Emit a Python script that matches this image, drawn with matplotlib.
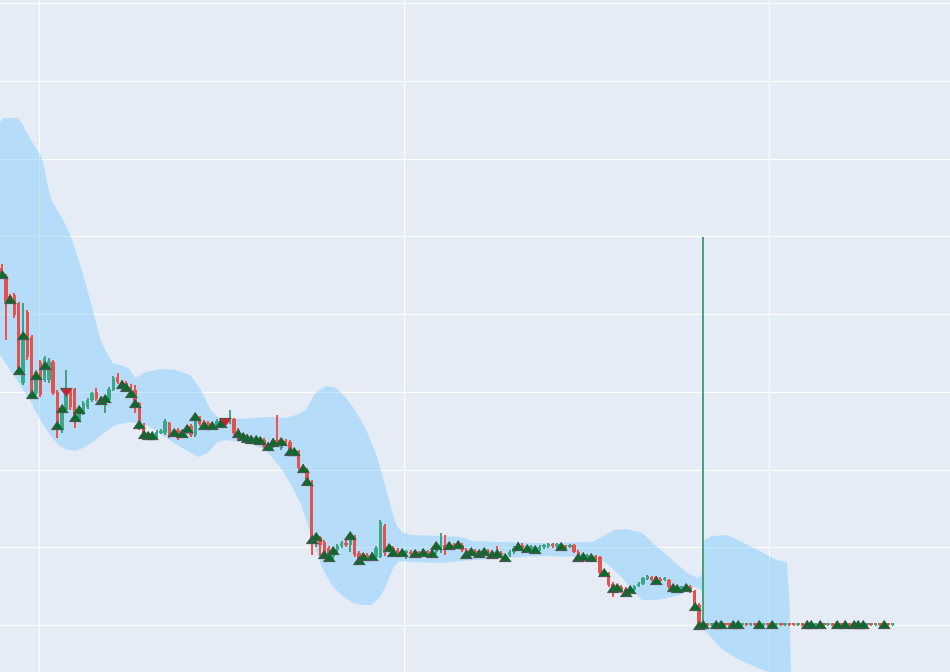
import numpy as np
import matplotlib
matplotlib.use('Agg')
import matplotlib.pyplot as plt

# daily OHLC, price units (grid step 77.75)
open_ = [357, 349, 329, 330, 322, 242, 313, 288, 232, 263,
         245, 245, 263, 233, 195, 215, 235, 236, 205, 212,
         218, 225, 233, 227, 222, 225, 235, 248, 243, 242,
         238, 235, 222, 199, 191, 190, 188, 192, 192, 202,
         192, 195, 190, 193, 199, 190, 207, 203, 202, 198,
         200, 203, 205, 203, 206, 195, 190, 189, 188, 187,
         186, 185, 181, 179, 185, 177, 184, 183, 175, 174,
         159, 155, 143, 85, 88, 83, 77, 68, 75, 79,
         82, 80, 88, 72, 67, 70, 69, 68, 68, 99,
         75, 77, 75, 73, 72, 73, 72, 72, 72, 73,
         72, 73, 77, 80, 78, 80, 78, 80, 75, 72,
         74, 72, 72, 74, 73, 72, 72, 69, 70, 73,
         77, 80, 77, 77, 77, 76, 78, 79, 80, 79,
         80, 79, 78, 80, 73, 69, 68, 69, 68, 68,
         53, 52, 41, 37, 38, 36, 34, 35, 39, 41,
         46, 48, 47, 46, 45, 45, 39, 38, 37, 38,
         38, 34, 20, 0, 1, 0, 1, 0, 1, 1,
         0, 1, 0, 1, 0, 1, 1, 0, 1, 0,
         0, 1, 0, 1, 1, 0, 1, 0, 1, 0,
         1, 1, 0, 1, 0, 1, 0, 1, 1, 0,
         1, 0, 1, 0, 1, 0, 1, 0]
close_ = [349, 323, 325, 310, 253, 290, 268, 230, 253, 230,
          267, 264, 232, 197, 217, 230, 218, 205, 215, 222,
          225, 232, 226, 224, 227, 236, 247, 243, 239, 235,
          231, 221, 198, 190, 189, 188, 193, 194, 204, 189,
          193, 188, 192, 197, 190, 209, 201, 199, 197, 201,
          204, 205, 203, 206, 192, 188, 187, 186, 186, 185,
          184, 179, 178, 185, 180, 184, 181, 172, 173, 157,
          155, 143, 85, 88, 80, 73, 68, 75, 79, 82,
          80, 89, 70, 65, 70, 68, 71, 77, 103, 72,
          78, 73, 72, 72, 73, 71, 73, 71, 73, 72,
          73, 79, 80, 76, 80, 78, 81, 75, 71, 74,
          72, 71, 74, 72, 71, 71, 70, 68, 73, 77,
          79, 77, 76, 78, 76, 78, 79, 81, 79, 80,
          79, 78, 80, 73, 68, 68, 69, 68, 67, 52,
          52, 40, 35, 35, 34, 33, 36, 39, 41, 47,
          49, 45, 46, 44, 46, 38, 37, 37, 38, 37,
          34, 18, 1, 3, 0, 1, 0, 1, 0, 0.5,
          1, 0, 1, 0, 1, 0, 0.5, 1, 0, 1,
          1, 0, 1, 0, 0, 1, 0, 1, 0, 1,
          0, 0.5, 1, 0, 1, 0, 1, 0, 0, 1,
          0, 1, 0, 1, 0, 1, 0, 1]
high_ = [361, 351, 331, 332, 323, 322, 315, 290, 255, 265,
         269, 267, 265, 235, 220, 255, 237, 237, 217, 224,
         227, 233, 237, 229, 229, 238, 249, 252, 245, 244,
         241, 240, 223, 202, 193, 192, 195, 196, 206, 203,
         195, 197, 195, 200, 201, 211, 209, 205, 204, 203,
         206, 207, 207, 215, 207, 197, 192, 191, 190, 189,
         188, 187, 183, 187, 210, 186, 186, 185, 177, 175,
         161, 157, 145, 92, 89, 85, 79, 77, 81, 84,
         85, 92, 90, 74, 72, 72, 73, 79, 105, 101,
         80, 79, 77, 75, 75, 75, 75, 74, 75, 75,
         75, 82, 92, 90, 82, 82, 83, 82, 77, 76,
         76, 74, 76, 76, 75, 79, 74, 71, 75, 79,
         83, 82, 79, 80, 79, 80, 81, 82, 82, 82,
         82, 80, 81, 81, 75, 71, 71, 70, 70, 69,
         55, 53, 43, 39, 40, 38, 38, 40, 43, 48,
         50, 49, 49, 48, 48, 46, 41, 40, 39, 40,
         40, 35, 22, 388, 2, 2, 2, 2, 2, 2,
         2, 2, 2, 2, 2, 2, 2, 2, 2, 2,
         2, 2, 2, 2, 2, 2, 2, 2, 2, 2,
         2, 2, 2, 2, 2, 2, 2, 2, 2, 2,
         2, 2, 2, 2, 2, 2, 2, 2]
low_ = [347, 285, 321, 307, 251, 240, 265, 227, 230, 228,
        243, 242, 230, 187, 192, 213, 215, 197, 203, 210,
        216, 223, 224, 222, 212, 223, 234, 241, 236, 233,
        229, 212, 195, 188, 187, 186, 186, 191, 190, 187,
        188, 185, 188, 191, 188, 188, 199, 198, 195, 196,
        198, 201, 202, 201, 190, 185, 184, 184, 184, 183,
        182, 177, 176, 177, 178, 175, 179, 170, 171, 155,
        153, 141, 70, 78, 69, 70, 65, 66, 73, 77,
        78, 73, 68, 62, 64, 65, 67, 66, 67, 69,
        73, 71, 70, 69, 66, 69, 70, 69, 70, 69,
        70, 71, 72, 70, 76, 76, 76, 73, 69, 70,
        70, 69, 70, 70, 69, 70, 68, 66, 68, 71,
        75, 75, 75, 75, 74, 74, 76, 77, 77, 77,
        77, 76, 77, 72, 65, 63, 67, 66, 65, 50,
        49, 38, 28, 33, 32, 31, 33, 34, 38, 40,
        45, 44, 44, 43, 44, 36, 35, 35, 35, 35,
        32, 15, -1, -1, -1, -1, -1, -1, -1, -1,
        -1, -1, -1, -1, -1, -1, -1, -1, -1, -1,
        -1, -1, -1, -1, -1, -1, -1, -1, -1, -1,
        -1, -1, -1, -1, -1, -1, -1, -1, -1, -1,
        -1, -1, -1, -1, -1, -1, -1, -1]

# buy / sell signals (candle index, price)
buy_idx = [0, 2, 4, 5, 7, 8, 10, 13, 14, 17, 18, 23, 24, 28, 29, 30, 31, 32,
           33, 34, 35, 40, 42, 43, 45, 47, 49, 51, 55, 56, 57, 58, 59, 60,
           62, 63, 65, 67, 68, 70, 71, 72, 73, 75, 76, 77, 81, 83, 84, 86,
           90, 91, 93, 96, 98, 100, 101, 104, 106, 108, 109, 111, 112, 114,
           115, 117, 120, 122, 124, 130, 134, 135, 137, 140, 142, 143, 145,
           146, 152, 156, 157, 159, 161, 162, 163, 166, 167, 170, 171, 176,
           179, 187, 188, 190, 194, 196, 198, 199, 200, 205]
buy_px = [351, 326, 255, 290, 231, 250, 260, 200, 217, 208, 216, 225, 227,
          241, 238, 232, 222, 201, 191, 190, 190, 193, 192, 197, 209, 200,
          200, 202, 192, 189, 187, 186, 186, 185, 179, 183, 184, 174, 174,
          157, 144, 86, 89, 71, 68, 75, 90, 65, 69, 69, 78, 73, 73, 72, 73,
          72, 80, 80, 81, 71, 74, 72, 74, 71, 72, 68, 79, 77, 76, 79, 68,
          69, 68, 53, 37, 38, 33, 36, 45, 38, 37, 38, 19, 0, 1, 1, 1, 1, 1,
          1, 1, 1, 1, 1, 1, 1, 1, 1, 1, 1]
sell_idx = [15, 52]
sell_px = [233, 203]

# band edges (candle index, price)
upper_x = [-0.4, 0.35, 3.6, 4.3, 5.9, 7.3, 9.0, 9.7, 10.8, 11.8, 12.9, 14.1,
           16.0, 18.3, 20.6, 23.0, 24.1, 25.8, 27.6, 29.5, 31.1, 33.5, 36.9,
           40.4, 43.9, 46.3, 48.6, 50.9, 57.9, 62.6, 66.1, 68.4, 70.7, 71.9,
           73.1, 75.4, 77.7, 80.1, 82.4, 84.7, 87.1, 89.4, 90.6, 91.7, 92.9,
           95.2, 102.2, 106.9, 109.2, 116.2, 125.5, 137.2, 139.5, 142.3,
           145.3, 148.8, 152.3, 155.8, 159.3, 161.7, 162.6, 163.3, 165.0,
           168.5, 172.0, 176.5, 180.0, 182.4, 183.0, 183.4]
upper_y = [502, 507, 507, 505, 492, 482, 470, 462, 438, 423, 415, 407,
           390, 360, 325, 285, 275, 262, 260, 257, 247, 253, 256,
           255, 250, 235, 215, 205, 207, 208, 207, 210, 215, 225,
           233, 239, 237, 227, 213, 195, 170, 135, 115, 100, 93,
           90, 89, 88, 84, 83, 82, 83, 88, 95,
           96, 92, 78, 65, 52, 47, 50, 85, 89,
           90, 83, 73, 65, 63, 25, -60]
lower_x = [-0.4, 2.0, 4.3, 6.6, 9.0, 11.3, 13.2, 14.8, 17.1, 19.5, 21.8, 24.1,
           26.5, 30.0, 33.5, 35.8, 40.0, 42.8, 45.6, 47.9, 50.2, 52.1, 55.6,
           57.9, 61.4, 64.9, 67.3, 69.6, 71.9, 74.2, 76.6, 78.9, 81.2, 83.6,
           85.9, 87.8, 89.4, 91.0, 92.4, 95.2, 102.2, 106.9, 116.2, 125.5,
           134.9, 139.5, 141.8, 144.2, 146.5, 148.8, 151.9, 154.7, 157.5,
           161.0, 162.6, 163.3, 167.0, 170.5, 174.0, 177.5, 181.0, 183.4]
lower_y = [270, 255, 240, 225, 205, 190, 180, 176, 174, 178, 185, 193,
           200, 203, 200, 195, 182, 175, 168, 172, 183, 185, 183,
           181, 175, 157, 140, 120, 90, 60, 40, 30, 23, 20,
           20, 27, 40, 57, 64, 63, 62, 64, 67, 69,
           68, 65, 57, 47, 35, 25, 25, 27, 30,
           38, 35, -5, -23, -33, -40, -46, -51, -60]

o = np.array(open_, float)
c = np.array(close_, float)
h = np.array(high_, float)
l = np.array(low_, float)
x = np.arange(len(c))
up = c >= o

fig = plt.figure(figsize=(9.5, 6.72), dpi=100)
ax = fig.add_axes([0, 0, 1, 1])
ax.set_facecolor('#e5ecf6')

# band
ax.fill(np.r_[upper_x, lower_x[::-1]], np.r_[upper_y, lower_y[::-1]],
        color='#87cefa', alpha=0.5, lw=0, zorder=1)

# wicks
ax.vlines(x[up], l[up], h[up], color='#3d9970', lw=1.3, zorder=2)
ax.vlines(x[~up], l[~up], h[~up], color='#ff4136', lw=1.3, zorder=2)

# bodies
bottom = np.minimum(o, c)
height = np.maximum(np.abs(c - o), 2)
ax.bar(x[up], height[up], bottom=bottom[up], width=0.8, color='#3aa68a',
       lw=0, zorder=3)
ax.bar(x[~up], height[~up], bottom=bottom[~up], width=0.8, color='#e0534f',
       lw=0, zorder=3)

tri_up = [(0, 0.7), (-1, -0.7), (1, -0.7)]
tri_dn = [(0, -0.7), (-1, 0.7), (1, 0.7)]
ax.plot(buy_idx, buy_px, ls='none', marker=tri_up, ms=8.5, mfc='#0b6b2c',
        mec='#4f4f4f', mew=0.7, zorder=5)
ax.plot(sell_idx, sell_px, ls='none', marker=tri_dn, ms=8.5, mfc='#c8242f',
        mec='#4f4f4f', mew=0.7, zorder=5)

ax.set_xlim(-0.35, 220.3)
ax.set_ylim(-47, 625)
ax.set_xticks([8.71, 93.5, 178.3])
ax.set_yticks(np.arange(0, 625, 77.75))
ax.grid(True, color='white', lw=0.8)
ax.set_axisbelow(True)
ax.tick_params(length=0, labelbottom=False, labelleft=False)
for s in ax.spines.values():
    s.set_visible(False)

fig.savefig('out.png', dpi=100)
